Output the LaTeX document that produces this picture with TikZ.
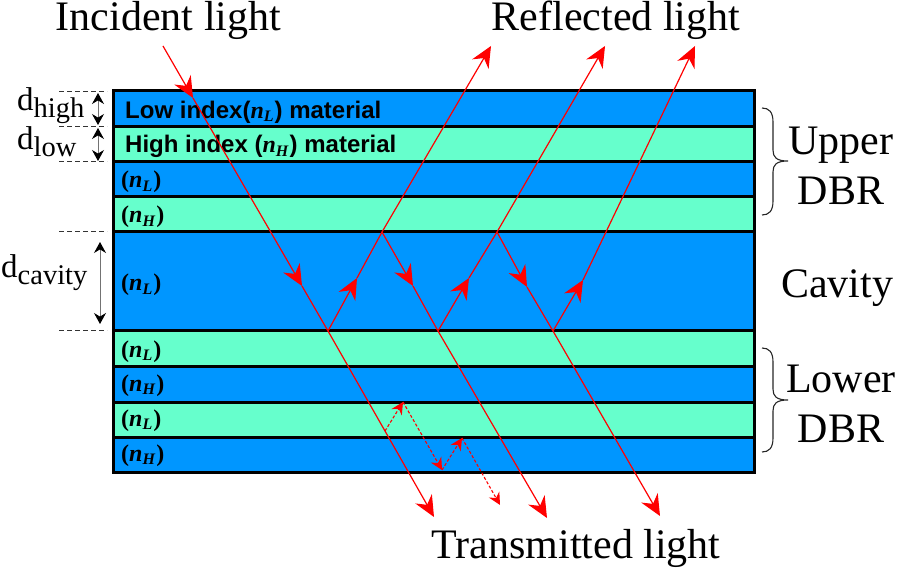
\documentclass[tikz,border=0pt]{standalone}
\usepackage{fontspec}
\setmainfont{Liberation Serif}
\newfontfamily\lblsans{Liberation Sans}
\usetikzlibrary{arrows.meta}
\definecolor{bluelay}{HTML}{0096FF}
\definecolor{greenlay}{HTML}{66FFCC}
\newcommand{\nsym}[1]{{\rmfamily\bfseries(\textit{n}\raisebox{-3.5pt}{\fontsize{16}{16}\selectfont\textit{#1}}\kern1pt)}}
\newcommand{\ninl}[1]{{\rmfamily\bfseries\fontsize{24}{24}\selectfont\textit{n}\raisebox{-3.5pt}{\fontsize{16}{16}\selectfont\textit{#1}}\kern1pt}}
\newcommand{\dsub}[1]{d\raisebox{-7pt}{\fontsize{28.5}{28.5}\selectfont #1}}
\tikzset{
  x=1pt,y=-1pt,
  blue layer/.style={draw=black,line width=3pt,fill=bluelay},
  green layer/.style={draw=black,line width=3pt,fill=greenlay},
  lbl/.style={anchor=base west,inner sep=0pt,font=\lblsans\fontsize{24}{24}\selectfont\bfseries},
  nlbl/.style={anchor=base west,inner sep=0pt,font=\fontsize{24}{24}\selectfont},
  big/.style={inner sep=0pt,anchor=base,font=\fontsize{42}{42}\selectfont},
  dim/.style={inner sep=0pt,anchor=base west,font=\fontsize{33}{33}\selectfont},
  guide/.style={line width=1pt,black!80,dash pattern=on 5pt off 3pt},
  dimarrow/.style={line width=1pt,black!55,{Stealth[length=11pt,width=12pt,black]}-{Stealth[length=11pt,width=12pt,black]}},
  ray/.style={red,line width=1.2pt},
  rayhead/.style={ray,-{Stealth[length=21pt,width=19pt,inset=7pt]}},
  dashray/.style={red,line width=1.1pt,dash pattern=on 3pt off 2pt,-{Stealth[length=12pt,width=12pt,inset=4pt]}},
  dbrace/.style={black!85,line width=1.1pt},
}
\begin{document}
\begin{tikzpicture}
\useasboundingbox (0,0) rectangle (897,569);
% layers
\draw[blue layer]  (113,91)  rectangle (754,127);
\draw[green layer] (113,127) rectangle (754,162);
\draw[blue layer]  (113,162) rectangle (754,197);
\draw[green layer] (113,197) rectangle (754,232);
\draw[blue layer]  (113,232) rectangle (754,331);
\draw[green layer] (113,331) rectangle (754,366);
\draw[blue layer]  (113,366) rectangle (754,402);
\draw[green layer] (113,402) rectangle (754,437);
\draw[blue layer]  (113,437) rectangle (754,472);
% layer texts
\node[lbl] (t1) at (125,118.5) {Low index(\ninl{L}) material};
\node[lbl] (t2) at (125,153) {High index (\ninl{H}) material};
\node[nlbl] (t3) at (121,188) {\nsym{L}};
\node[nlbl] (t4) at (121,223) {\nsym{H}};
\node[nlbl] (t5) at (121,291) {\nsym{L}};
\node[nlbl] (t6) at (121,357) {\nsym{L}};
\node[nlbl] (t7) at (121,391) {\nsym{H}};
\node[nlbl] (t8) at (121,426) {\nsym{L}};
\node[nlbl] (t9) at (121,461) {\nsym{H}};
% big labels
\node[big] (inc) at (168.5,31) {Incident light};
\node[big] (refl) at (616,31) {Reflected light};
\node[big] (trans) at (576,558) {Transmitted light};
\node[big] (upper) at (841,155) {Upper};
\node[big] (upperb) at (841,205) {DBR};
\node[big] (cav) at (837,298) {Cavity};
\node[big] (lower) at (841,392) {Lower};
\node[big] (lowerb) at (841,442) {DBR};
% dimension labels
\node[dim] (dh) at (17,111) {\dsub{high}};
\node[dim] (dl) at (17,150) {\dsub{low}};
\node[dim] (dc) at (1,278) {\dsub{cavity}};
% guides
\coordinate (g1a) at (59,92);  \coordinate (g1b) at (107,92);
\coordinate (g2a) at (59,127); \coordinate (g2b) at (107,127);
\coordinate (g3a) at (59,162); \coordinate (g3b) at (107,162);
\coordinate (g4a) at (59,232); \coordinate (g4b) at (107,232);
\coordinate (g5a) at (59,331); \coordinate (g5b) at (107,331);
\foreach \g in {1,...,5} \draw[guide] (g\g a) -- (g\g b);
\coordinate (a1) at (98,93);  \coordinate (a2) at (98,125);
\coordinate (a3) at (98,128); \coordinate (a4) at (98,161);
\coordinate (a5) at (100,242); \coordinate (a6) at (100,324);
\draw[dimarrow] (a1) -- (a2);
\draw[dimarrow] (a3) -- (a4);
\draw[dimarrow] (a5) -- (a6);
% braces
\draw[dbrace] (762,108) .. controls (769,108) and (773,112) .. (773,122) -- (773,150)
  .. controls (773,157) and (776,161) .. (788,161)
  .. controls (776,161) and (773,165) .. (773,172) -- (773,201)
  .. controls (773,211) and (769,215) .. (762,215);
\draw[dbrace] (762,348) .. controls (769,348) and (773,352) .. (773,362) -- (773,389)
  .. controls (773,396) and (776,400) .. (788,400)
  .. controls (776,400) and (773,404) .. (773,411) -- (773,438)
  .. controls (773,448) and (769,452) .. (762,452);
% ray points
\coordinate (in0) at (163,46);
\coordinate (in1) at (193,98);
\coordinate (in2) at (302,286);
\coordinate (p1) at (328,331);
\coordinate (q1) at (382,232);
\coordinate (p2) at (438,331);
\coordinate (q2) at (497,232);
\coordinate (p3) at (553,331);
\coordinate (m1) at (357,278);
\coordinate (m2) at (413,286);
\coordinate (m3) at (469,278);
\coordinate (m4) at (527,287);
\coordinate (m5) at (583,280);
\coordinate (r1) at (491,46);
\coordinate (r2) at (605,46);
\coordinate (r3) at (695,46);
\coordinate (e1) at (434,517);
\coordinate (e2) at (547,518);
\coordinate (e3) at (660,516);
% solid rays
\draw[rayhead] (in0) -- (in1);
\draw[rayhead] (in1) -- (in2);
\draw[ray] (in2) -- (p1);
\draw[rayhead] (p1) -- (m1);
\draw[ray] (m1) -- (q1);
\draw[rayhead] (q1) -- (r1);
\draw[rayhead] (q1) -- (m2);
\draw[ray] (m2) -- (p2);
\draw[rayhead] (p2) -- (m3);
\draw[ray] (m3) -- (q2);
\draw[rayhead] (q2) -- (r2);
\draw[rayhead] (q2) -- (m4);
\draw[ray] (m4) -- (p3);
\draw[rayhead] (p3) -- (m5);
\draw[rayhead] (p1) -- (e1);
\draw[rayhead] (p2) -- (e2);
\draw[rayhead] (p3) -- (e3);
\draw[rayhead] (m5) -- (r3);
% dashed rays
\coordinate (d0) at (385,431);
\coordinate (d1) at (403,402);
\coordinate (d2) at (442,470);
\coordinate (d3) at (462,438);
\coordinate (d4) at (500,505);
\draw[dashray] (d0) -- (d1);
\draw[dashray] (d1) -- (d2);
\draw[dashray] (d2) -- (d3);
\draw[dashray] (d3) -- (d4);
\end{tikzpicture}
\end{document}
